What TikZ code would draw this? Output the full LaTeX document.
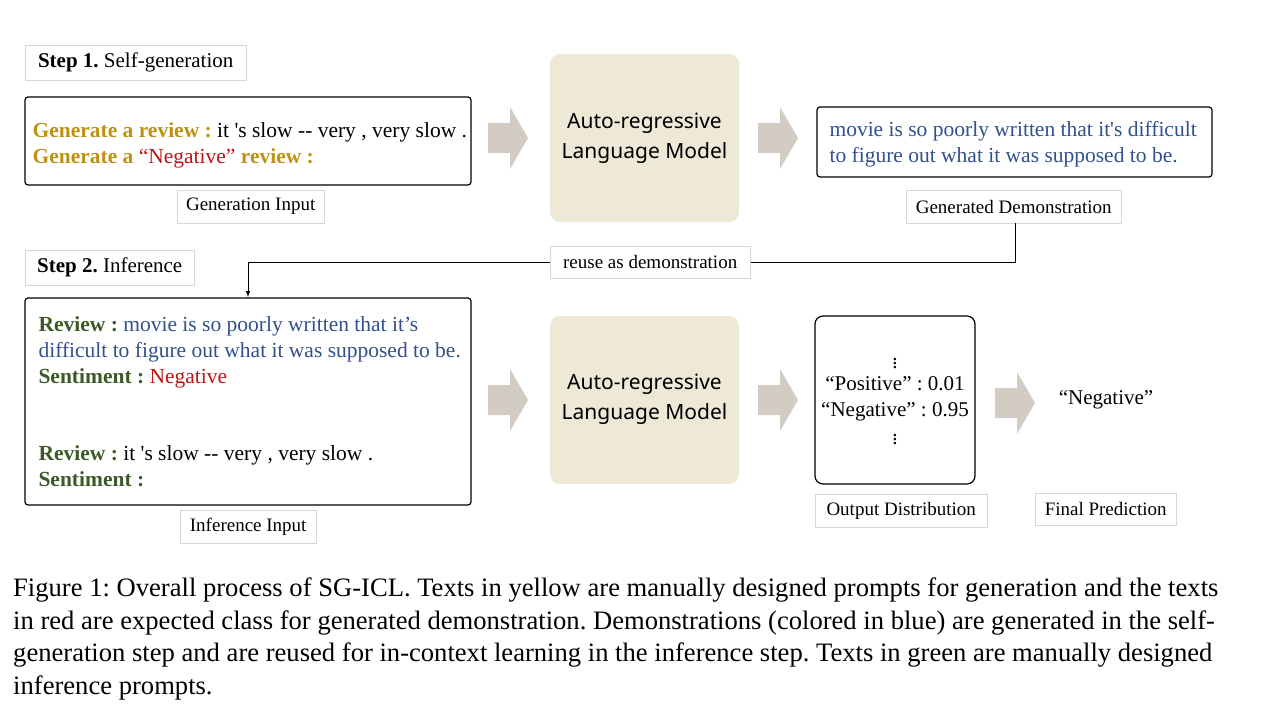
\documentclass[tikz,border=0pt]{standalone}
\usepackage{fontspec}
\setmainfont{Liberation Serif}
\newfontfamily\modelfont{Noto Sans}
\definecolor{ylw}{RGB}{190,145,20}
\definecolor{rd}{RGB}{190,20,20}
\definecolor{bl}{RGB}{50,80,140}
\definecolor{gr}{RGB}{60,90,40}
\definecolor{modelbg}{RGB}{238,232,214}
\definecolor{arrowbg}{RGB}{210,204,196}
\definecolor{lblline}{RGB}{215,215,215}
\frenchspacing
\newcommand{\sq}{\textquotesingle}
\begin{document}
\begin{tikzpicture}[x=1pt,y=-1pt,
  lbl/.style={draw=lblline,fill=white,inner sep=0pt,font=\fontsize{19}{22}\selectfont},
  tbox/.style={draw=black,line width=1.2pt,rounded corners=3pt},
  model/.style={fill=modelbg,rounded corners=10pt},
  txt/.style={font=\fontsize{21.5}{26}\selectfont,align=left,anchor=west}]
\useasboundingbox (0,0) rectangle (1270,726);
\newcommand{\blockarrow}[2]{\fill[arrowbg] (#1,#2-15) -- (#1+22,#2-15) -- (#1+22,#2-31) -- (#1+40,#2) -- (#1+22,#2+31) -- (#1+22,#2+15) -- (#1,#2+15) -- cycle;}
% Step 1
\node[lbl,minimum width=221pt,minimum height=35pt,anchor=north west,font=\fontsize{21}{24}\selectfont] (s1) at (25,45) {\textbf{Step 1.} Self-generation};
\draw[tbox] (25,97) rectangle (471,185);
\node[txt] (gi) at (29,145) {\textcolor{ylw}{\textbf{Generate a review :}} it \sq s slow -{}- very , very slow .\\\textcolor{ylw}{\textbf{Generate a \textcolor{rd}{\textmd{“Negative”}} review :}}};
\node[lbl,minimum width=147pt,minimum height=33pt,anchor=north west] (gil) at (177,190) {Generation Input};
\blockarrow{488}{138}
\fill[model] (550,54) rectangle (739,222);
\node[font=\modelfont\fontsize{21}{30}\selectfont,align=center] (m1) at (644.5,138) {Auto-regressive\\Language Model};
\blockarrow{758}{138}
\draw[tbox] (817,107) rectangle (1212,177);
\node[txt,text=bl] (gd) at (826,144) {movie is so poorly written that it\sq s difficult\\to figure out what it was supposed to be.};
\node[lbl,minimum width=215pt,minimum height=33pt,anchor=north west] (gdl) at (906,190) {Generated Demonstration};
% reuse
\coordinate (c1) at (1015,262);
\coordinate (c2) at (248,262);
\coordinate (c3) at (248,297);
\draw[line width=1pt,-latex] (1015,223) -- (c1) -- (c2) -- (c3);
\node[lbl,minimum width=200pt,minimum height=32pt,anchor=north west] (ru) at (550,246) {reuse as demonstration};
% Step 2
\node[lbl,minimum width=169pt,minimum height=35pt,anchor=north west,font=\fontsize{21}{24}\selectfont] (s2) at (25,250) {\textbf{Step 2.} Inference};
\draw[tbox] (25,298) rectangle (471,505);
\node[txt,anchor=north west] (ii) at (35,313) {\textcolor{gr}{\textbf{Review :}} \textcolor{bl}{movie is so poorly written that it’s}\\\textcolor{bl}{difficult to figure out what it was supposed to be.}\\\textcolor{gr}{\textbf{Sentiment :}} \textcolor{rd}{Negative}};
\node[txt,anchor=north west] (ii2) at (35,442) {\textcolor{gr}{\textbf{Review :}} it \sq s slow -{}- very , very slow .\\\textcolor{gr}{\textbf{Sentiment :}}};
\node[lbl,minimum width=136pt,minimum height=33pt,anchor=north west] (iil) at (180,510) {Inference Input};
\blockarrow{488}{400}
\fill[model] (550,316) rectangle (739,484);
\node[font=\modelfont\fontsize{21}{30}\selectfont,align=center] (m2) at (644.5,399) {Auto-regressive\\Language Model};
\blockarrow{758}{400}
\draw[tbox,rounded corners=8pt] (815,316) rectangle (975,484);
\node[font=\fontsize{21}{26}\selectfont,inner sep=0pt] (vd1) at (895,361) {$\vdots$};
\node[font=\fontsize{21}{26}\selectfont,align=center,inner sep=0pt] (od) at (895,399) {“Positive” : 0.01\\“Negative” : 0.95};
\node[font=\fontsize{21}{26}\selectfont,inner sep=0pt] (vd2) at (895,437) {$\vdots$};
\node[lbl,minimum width=172pt,minimum height=33pt,anchor=north west] (odl) at (815,494) {Output Distribution};
\blockarrow{995}{403}
\node[font=\fontsize{21}{26}\selectfont] (fp) at (1106,400) {“Negative”};
\node[lbl,minimum width=141pt,minimum height=32pt,anchor=north west] (fpl) at (1035,493) {Final Prediction};
% caption
\node[anchor=north west,align=left,font=\fontsize{26.6}{32.5}\selectfont,inner sep=0pt] (cap) at (13,578) {Figure 1: Overall process of SG-ICL. Texts in yellow are manually designed prompts for generation and the texts\\in red are expected class for generated demonstration. Demonstrations (colored in blue) are generated in the self-\\generation step and are reused for in-context learning in the inference step. Texts in green are manually designed\\inference prompts.};
\end{tikzpicture}
\end{document}
